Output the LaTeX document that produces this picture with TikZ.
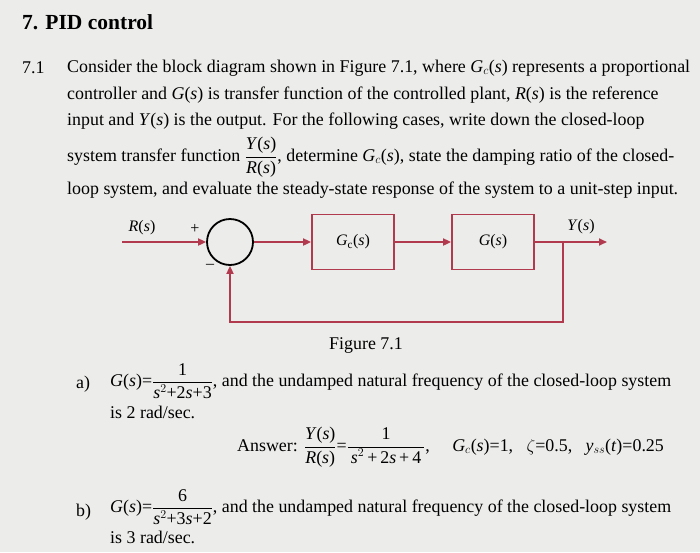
\documentclass[tikz,border=0pt]{standalone}
\usepackage{fontspec}
\setmainfont{Liberation Serif}
\usetikzlibrary{arrows.meta}
\newcommand{\mi}[1]{\textit{#1}}
\newcommand{\tf}[2]{$\displaystyle\frac{\mbox{#1}}{\mbox{#2}}$}
\definecolor{dred}{HTML}{B23A4E}
\definecolor{bg}{HTML}{ECECEA}
\tikzset{
  txt/.style={anchor=west,inner sep=0pt,font=\fontsize{17.9}{21}\selectfont,text=black},
  blk/.style={draw=dred,line width=1.8pt,minimum width=82pt,minimum height=55pt,font=\fontsize{16}{19}\selectfont},
  sig/.style={draw=dred,line width=1.8pt,-{Triangle[length=8pt,width=7pt]},fill=none},
  lab/.style={inner sep=0pt,font=\fontsize{16}{19}\selectfont}
}
\begin{document}
\begin{tikzpicture}[x=1pt,y=-1pt]
\fill[bg] (0,0) rectangle (700,552);
\useasboundingbox (0,0) rectangle (700,552);
\node[txt,font=\fontsize{21.5}{25}\selectfont\bfseries] (title) at (22,22) {7. PID control};
\node[txt] (num) at (22,68) {7.1};
\node[txt] (l1) at (67,68) {Consider the block diagram shown in Figure 7.1, where \mi{G}$_c$(\mi{s}) represents a proportional};
\node[txt] (l2) at (67,95) {controller and \mi{G}(\mi{s}) is transfer function of the controlled plant, \mi{R}(\mi{s}) is the reference};
\node[txt] (l3) at (67,121) {input and \mi{Y}(\mi{s}) is the output. For the following cases, write down the closed-loop};
\node[txt] (l4) at (67,157) {system transfer function \tf{\mi{Y}(\mi{s})}{\mi{R}(\mi{s})}, determine \mi{G}$_c$(\mi{s}), state the damping ratio of the closed-};
\node[txt] (l5) at (67,190) {loop system, and evaluate the steady-state response of the system to a unit-step input.};
% block diagram
\coordinate (in) at (122,242);
\node[draw,circle,line width=1.8pt,minimum size=46pt,inner sep=0pt] (sum) at (230,242) {};
\node[blk] (gc) at (353,242) {\mi{G}\textsubscript{c}(\mi{s})};
\node[blk] (g) at (493,242) {\mi{G}(\mi{s})};
\coordinate (split) at (563,242);
\coordinate (out) at (607,242);
\coordinate (fb1) at (563,322);
\coordinate (fb2) at (230,322);
\draw[sig] (in) -- (sum);
\draw[sig] (sum) -- (gc);
\draw[sig] (gc) -- (g);
\draw[sig] (g) -- (out);
\draw[sig] (split) -- (fb1) -- (fb2) -- (sum);
\node[lab] (rl) at (142,228) {\mi{R}(\mi{s})};
\node[lab] (yl) at (581,227) {\mi{Y}(\mi{s})};
\node[lab] (plus) at (195,229) {+};
\node[lab] (minus) at (210,266) {--};
\node[txt,anchor=center] (fig) at (366,345) {Figure 7.1};
% part a
\node[txt] (a) at (76,384) {a)};
\node[txt] (ga) at (110,381) {\mi{G}(\mi{s})=\tf{1}{\mi{s}$^2$+2\mi{s}+3}, and the undamped natural frequency of the closed-loop system};
\node[txt] (ga2) at (110,412) {is 2 rad/sec.};
\node[txt] (ans) at (237,447) {Answer: \tf{\mi{Y}(\mi{s})}{\mi{R}(\mi{s})}=\tf{1}{\,\mi{s}$^2$\,+\,2\mi{s}\,+\,4\,}, \quad \mi{G}$_c$(\mi{s})=1, \ \ $\zeta$=0.5, \ \ \mi{y}$_{ss}$(\mi{t})=0.25};
% part b
\node[txt] (b) at (76,512) {b)};
\node[txt] (gb) at (110,507) {\mi{G}(\mi{s})=\tf{6}{\mi{s}$^2$+3\mi{s}+2}, and the undamped natural frequency of the closed-loop system};
\node[txt] (gb2) at (110,537) {is 3 rad/sec.};
\end{tikzpicture}
\end{document}
